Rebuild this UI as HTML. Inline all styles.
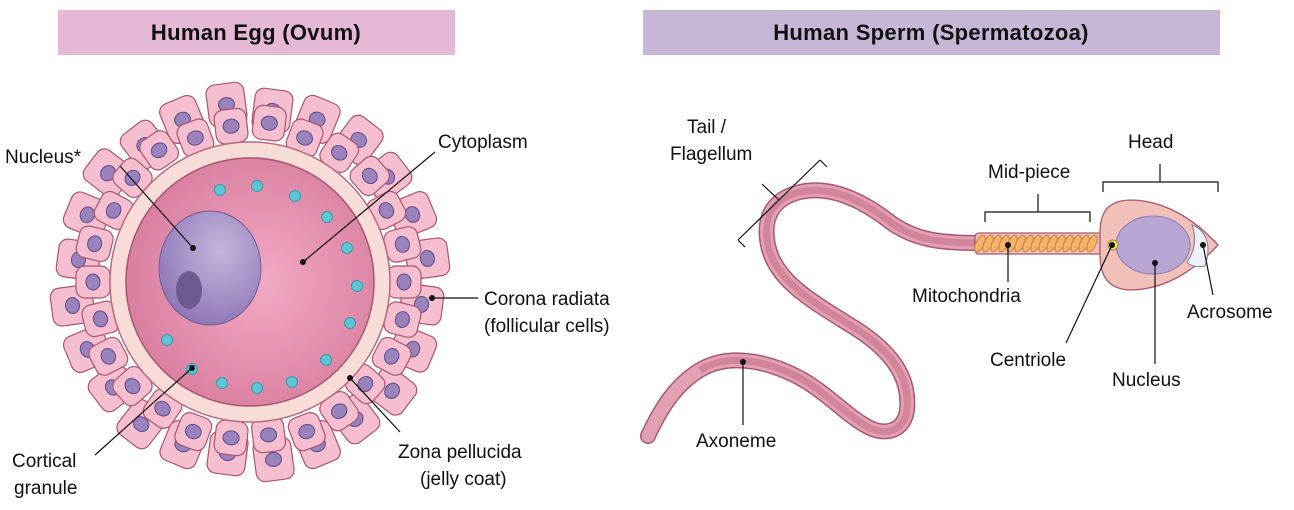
<!DOCTYPE html>
<html><head><meta charset="utf-8"><style>
body{margin:0;background:#fff}
svg{display:block}
text{font-family:"Liberation Sans",sans-serif;font-size:19px;fill:#111}
.t{font-weight:bold;font-size:22px;text-anchor:middle;letter-spacing:0.3px}
</style></head><body>
<svg id="s" width="1294" height="510" viewBox="0 0 1294 510">
<defs>
<radialGradient id="cyt" cx="0.55" cy="0.5" r="0.6"><stop offset="0" stop-color="#f2a9c4"/><stop offset="1" stop-color="#d77b9d"/></radialGradient>
<radialGradient id="nuc" cx="0.6" cy="0.35" r="0.7"><stop offset="0" stop-color="#c6b5dc"/><stop offset="1" stop-color="#8d75b5"/></radialGradient>
</defs>
<rect x="58" y="10" width="397" height="45" fill="#e5b8d6"/>
<text class="t" x="256" y="40">Human Egg (Ovum)</text>
<rect x="643" y="10" width="577" height="45" fill="#c7b7d6"/>
<text class="t" x="931" y="40">Human Sperm (Spermatozoa)</text>
<g id="cells"></g>
<circle cx="250" cy="282" r="140" fill="#f7dcd8" stroke="#b86a7e" stroke-width="1.5"/>
<circle cx="250" cy="282" r="124" fill="url(#cyt)" stroke="#a9566f" stroke-width="1.5"/>
<ellipse cx="210" cy="268" rx="51" ry="57" fill="url(#nuc)" stroke="#6e5c93" stroke-width="1"/>
<ellipse cx="189" cy="290" rx="13" ry="19" fill="#6f5a8f"/>
<g id="gran" fill="#5cc7d4" stroke="#3a98a8" stroke-width="1"></g>
<!-- sperm tail -->
<path d="M978,243 C940,243 915,240 890,222 C862,200 830,185 800,192 C775,198 762,215 768,245 C775,280 810,300 850,325 C895,352 910,380 907,410 C904,432 885,435 870,428 C845,415 830,395 800,378 C770,362 730,352 700,370 C675,385 660,410 648,436" fill="none" stroke="#a8586e" stroke-width="16" stroke-linecap="round"/>
<path d="M978,243 C940,243 915,240 890,222 C862,200 830,185 800,192 C775,198 762,215 768,245 C775,280 810,300 850,325 C895,352 910,380 907,410 C904,432 885,435 870,428 C845,415 830,395 800,378 C770,362 730,352 700,370 C675,385 660,410 648,436" fill="none" stroke="#e4a0b3" stroke-width="13" stroke-linecap="round"/>
<path d="M978,243 C940,243 915,240 890,222 C862,200 830,185 800,192 C775,198 762,215 768,245 C775,280 810,300 850,325 C895,352 910,380 907,410 C904,432 885,435 870,428 C845,415 830,395 800,378 C770,362 730,352 700,370" fill="none" stroke="#d2849b" stroke-width="7"/>
<!-- midpiece -->
<rect x="975" y="233" width="127" height="21" rx="4" fill="#f0c0b8" stroke="#a8586e" stroke-width="1.3"/>
<g id="coil" fill="#f4b26a" stroke="#c9823a" stroke-width="1"></g>
<!-- head -->
<path d="M1100,234 C1100,215 1105,201 1130,200 C1165,200 1195,220 1218,245 C1195,270 1165,290 1130,290 C1105,289 1100,272 1100,254 Z" fill="#f1c0b8" stroke="#a8586e" stroke-width="1.3"/>
<ellipse cx="1153" cy="245" rx="37" ry="29" fill="#b8a5d4" stroke="#8d78b0"/>
<path d="M1192,225 C1206,230 1212,245 1205,266 C1196,268 1189,265 1187,262 C1196,250 1196,236 1192,225 Z" fill="#eef0f6" stroke="#7a7fa0"/>
<circle cx="1113" cy="245" r="5" fill="#f6e060" stroke="#a08b2a"/>
<g stroke="#111" stroke-width="1.2" fill="none">
<line x1="120" y1="166" x2="193" y2="248"/>
<line x1="435" y1="152" x2="303" y2="262"/>
<line x1="432" y1="298" x2="478" y2="298"/>
<line x1="95" y1="455" x2="192" y2="368"/>
<line x1="350" y1="378" x2="400" y2="432"/>
<line x1="738" y1="240" x2="820" y2="160"/>
<line x1="738" y1="240" x2="745" y2="247"/><line x1="820" y1="160" x2="827" y2="167"/>
<line x1="779" y1="200" x2="762" y2="184"/>
<polyline points="985,222 985,212 1090,212 1090,222"/><line x1="1038" y1="212" x2="1038" y2="194"/>
<polyline points="1103,192 1103,182 1218,182 1218,192"/><line x1="1160" y1="182" x2="1160" y2="164"/>
<line x1="1008" y1="245" x2="1008" y2="282"/>
<line x1="1112" y1="245" x2="1066" y2="343"/>
<line x1="1155" y1="263" x2="1155" y2="364"/>
<line x1="1203" y1="245" x2="1213" y2="295"/>
<line x1="743" y1="362" x2="743" y2="425"/>
</g>
<g fill="#111">
<circle cx="193" cy="248" r="3"/><circle cx="303" cy="262" r="3"/><circle cx="432" cy="298" r="3"/>
<circle cx="192" cy="368" r="3"/><circle cx="350" cy="378" r="3"/>
<circle cx="1008" cy="245" r="3"/><circle cx="1112" cy="245" r="3"/><circle cx="1155" cy="263" r="3"/>
<circle cx="1203" cy="245" r="3"/><circle cx="743" cy="362" r="3"/>
</g>
<text x="5" y="163">Nucleus*</text>
<text x="438" y="148">Cytoplasm</text>
<text x="484" y="305">Corona radiata</text>
<text x="484" y="332">(follicular cells)</text>
<text x="12" y="467">Cortical</text>
<text x="14" y="494">granule</text>
<text x="398" y="458">Zona pellucida</text>
<text x="420" y="485">(jelly coat)</text>
<text x="687" y="133">Tail /</text>
<text x="670" y="160">Flagellum</text>
<text x="988" y="178">Mid-piece</text>
<text x="1128" y="148">Head</text>
<text x="912" y="302">Mitochondria</text>
<text x="990" y="366">Centriole</text>
<text x="1112" y="386">Nucleus</text>
<text x="1187" y="318">Acrosome</text>
<text x="696" y="447">Axoneme</text>
</svg>
<script>
var NS="http://www.w3.org/2000/svg";
function el(p,t,a){var e=document.createElementNS(NS,t);for(var k in a)e.setAttribute(k,a[k]);p.appendChild(e);return e;}
var cells=document.getElementById('cells'),cx=250,cy=282;
var layers=[[176,24,0.13,21,19],[157,26,0,17,16]];
layers.forEach(function(L){for(var i=0;i<L[1];i++){var a=2*Math.PI*i/L[1]+L[2];var r=L[0]+((i*7)%3-1)*3;var x=cx+r*Math.cos(a),y=cy+r*Math.sin(a);
var g=el(cells,'g',{transform:'translate('+x+','+y+') rotate('+(a*180/Math.PI)+')'});
el(g,'rect',{x:-L[3],y:-L[4],width:2*L[3],height:2*L[4],rx:9,fill:'#f5bfcf',stroke:'#a9566f','stroke-width':1.2});
el(g,'ellipse',{cx:0,cy:0,rx:7,ry:8,fill:'#9a82bd',stroke:'#5f4b85','stroke-width':1});}});
var gr=document.getElementById('gran');
[[220,190],[257,186],[295,196],[327,217],[347,248],[357,286],[350,323],[326,360],[292,382],[257,388],[222,383],[192,369],[167,340]].forEach(function(p){el(gr,'circle',{cx:p[0],cy:p[1],r:5.5});});
var co=document.getElementById('coil');
for(var x=980;x<1098;x+=8){el(co,'ellipse',{cx:x,cy:243.5,rx:4,ry:9,transform:'rotate(25 '+x+' 243.5)'});}
</script>
</body></html>
